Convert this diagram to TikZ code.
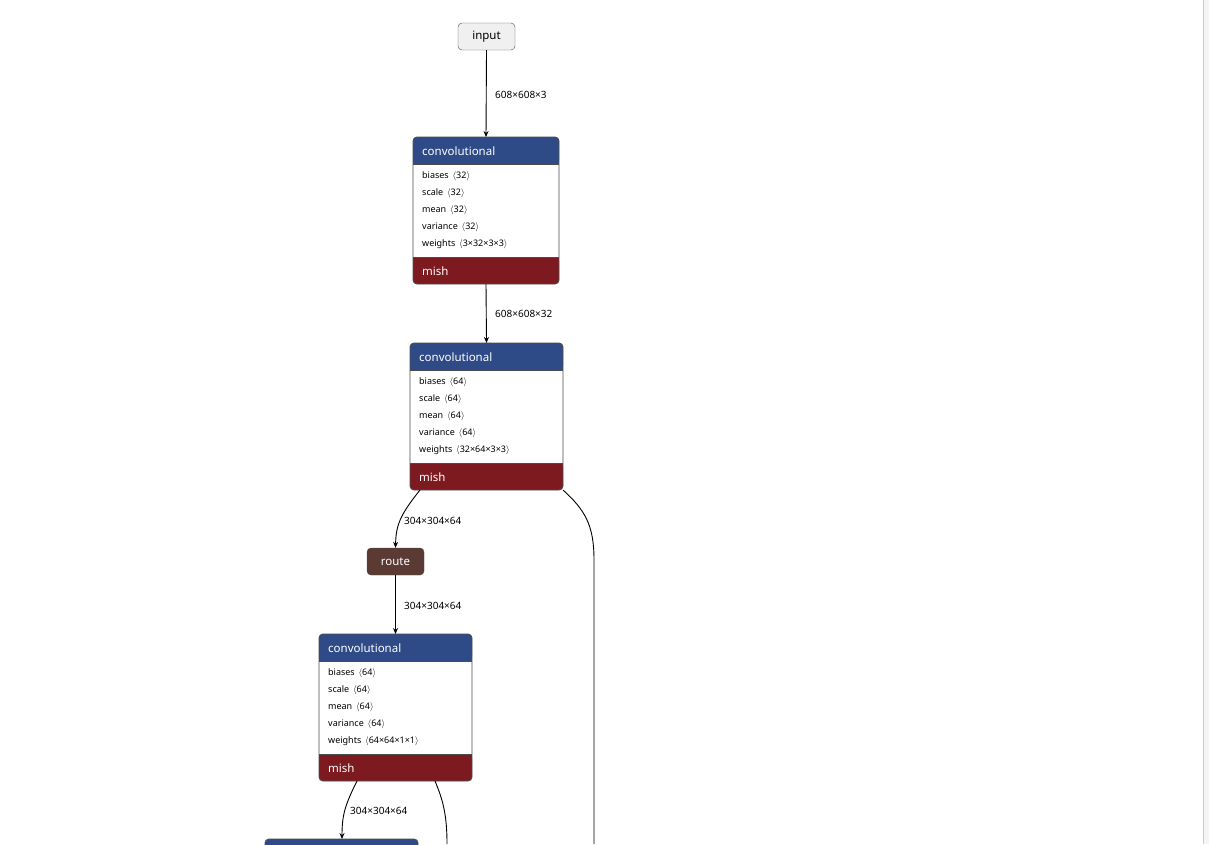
\documentclass[tikz,border=0pt]{standalone}
\usepackage{fontspec}
\setmainfont{Noto Sans}
\usetikzlibrary{arrows.meta}
\begin{document}
\begin{tikzpicture}[x=1pt,y=-1pt,
  lab/.style={anchor=west,font=\fontsize{10}{12}\selectfont,inner sep=0pt},
  tl/.style={anchor=west,font=\fontsize{11.5}{13}\selectfont,inner sep=0pt},
  att/.style={anchor=west,font=\fontsize{9}{10}\selectfont,inner sep=0pt},
  edge/.style={draw=black,line width=0.9pt,-{Stealth[length=6pt,width=5pt]}},
  plain/.style={draw=black,line width=0.9pt}]
\useasboundingbox (0,0) rectangle (1209,844);
\clip (0,0) rectangle (1209,844);
\definecolor{cblue}{HTML}{2E4B87}
\definecolor{cred}{HTML}{7D1A20}
\definecolor{cbrown}{HTML}{5A3A33}
\fill[gray!8] (1203,0) rectangle (1209,844);
\draw[gray!40] (1203,0) -- (1203,844);
% input
\node[draw=black!70,fill=gray!12,rounded corners=4pt,minimum width=57pt,minimum height=27pt,inner sep=0pt,font=\fontsize{11.5}{13}\selectfont] (in) at (486.5,36.5) {input};
\foreach \nm/\xa/\xb/\ya/\ws/\v in {c1/413/559/137/3×32×3×3/32, c2/410/563/343/32×64×3×3/64, c3/319/472/634/64×64×1×1/64}{
  \fill[cblue,rounded corners=4pt] (\xa,\ya) rectangle (\xb,\ya+27);
  \fill[cblue] (\xa,\ya+10) rectangle (\xb,\ya+27);
  \fill[white] (\xa,\ya+27) rectangle (\xb,\ya+120);
  \fill[cred,rounded corners=4pt] (\xa,\ya+120) rectangle (\xb,\ya+147);
  \fill[cred] (\xa,\ya+120) rectangle (\xb,\ya+135);
  \draw[black!70,line width=0.8pt] (\xa,\ya+27) -- (\xb,\ya+27) (\xa,\ya+120) -- (\xb,\ya+120);
  \draw[black!70,line width=0.9pt,rounded corners=4pt] (\xa,\ya) rectangle (\xb,\ya+147);
  \node[tl,text=white] at (\xa+9,\ya+14) {convolutional};
  \node[att] at (\xa+9,\ya+39.5) {\textbf{biases}\, $\langle$\v$\rangle$};
  \node[att] at (\xa+9,\ya+56.5) {\textbf{scale}\, $\langle$\v$\rangle$};
  \node[att] at (\xa+9,\ya+73.5) {\textbf{mean}\, $\langle$\v$\rangle$};
  \node[att] at (\xa+9,\ya+90.5) {\textbf{variance}\, $\langle$\v$\rangle$};
  \node[att] at (\xa+9,\ya+107) {\textbf{weights}\, $\langle$\ws$\rangle$};
  \node[tl,text=white] at (\xa+9,\ya+134) {mish};
  \coordinate (\nm t) at ({(\xa+\xb)/2},\ya);
}
% partial conv4
\fill[cblue,rounded corners=4pt] (265,839) rectangle (418,870);
\draw[black!70,line width=0.9pt,rounded corners=4pt] (265,839) rectangle (418,870);
\coordinate (c4t) at (342,839);
% route
\node[draw=black!70,fill=cbrown,rounded corners=4pt,minimum width=57pt,minimum height=27pt,inner sep=0pt,text=white,font=\fontsize{11.5}{13}\selectfont] (rt) at (395.5,561.5) {route};
\coordinate (c1b) at (486,284);
\coordinate (c2bl) at (420,490);
\coordinate (c2br) at (563,490);
\coordinate (c3bl) at (357,781);
\coordinate (c3br) at (435,781);
\coordinate (e1) at (594,844);
\coordinate (e2) at (447,844);
\draw[edge] (in.south) -- (c1t);
\node[lab] at (495,95) {608×608×3};
\draw[edge] (c1b) -- (c2t);
\node[lab] at (495,314) {608×608×32};
\draw[edge] (c2bl) .. controls (400,515) and (396,525) .. (rt.north);
\node[lab] at (404,521) {304×304×64};
\draw[plain] (c2br) .. controls (585,510) and (594,525) .. (594,560) -- (e1);
\draw[edge] (rt.south) -- (c3t);
\node[lab] at (404,606) {304×304×64};
\draw[edge] (c3bl) .. controls (345,805) and (342,815) .. (c4t);
\node[lab] at (350,811) {304×304×64};
\draw[plain] (c3br) .. controls (443,800) and (447,815) .. (e2);
\end{tikzpicture}
\end{document}
